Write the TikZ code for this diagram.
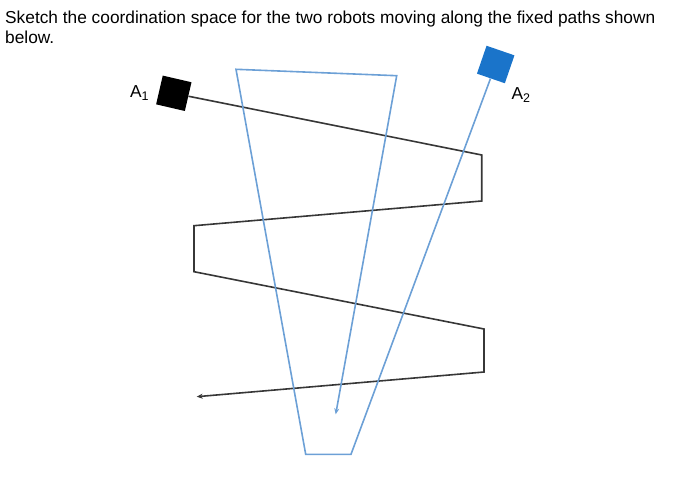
\documentclass[tikz,border=0pt]{standalone}
\usepackage{fontspec}
\setmainfont{Liberation Sans}
\usetikzlibrary{arrows.meta}
\definecolor{pathblue}{RGB}{108,160,214}
\definecolor{robotblue}{RGB}{26,116,202}
\definecolor{pathgray}{RGB}{55,55,55}
\newcommand{\robotsub}[1]{\raisebox{-0.3ex}{\fontsize{12.5bp}{12.5bp}\selectfont #1}}
\tikzset{
	robot/.style={draw=none, minimum size=29.5bp, inner sep=0pt},
	lbl/.style={inner sep=0pt, font=\fontsize{17.3bp}{20.7bp}\selectfont},
	path1/.style={pathgray, line width=1.6bp},
	path2/.style={pathblue, line width=1.6bp}
}
\begin{document}
\begin{tikzpicture}[x=1bp, y=-1bp]
	\useasboundingbox (0,0) rectangle (691,479);
	%question text
	\node[lbl, anchor=base west, align=left] (task) at (5,44)
		{Sketch the coordination space for the two robots moving along the fixed paths shown\\below.};
	
	%robots
	\node[robot, fill=black, rotate=-13] (a1) at (173.8,93.3){};
	\node[robot, fill=robotblue, rotate=-19] (a2) at (495.7,64.5){};
	\node[lbl, anchor=base west] (a1lbl) at (130,98){A\robotsub{1}};
	\node[lbl, anchor=base west] (a2lbl) at (511.5,100){A\robotsub{2}};
	
	%path of A1
	\coordinate (b1) at (481.7,155);
	\coordinate (b2) at (481.7,201);
	\coordinate (b3) at (194,225.7);
	\coordinate (b4) at (194,271.7);
	\coordinate (b5) at (484,329);
	\coordinate (b6) at (484,372);
	\coordinate (b7) at (196.7,396.7);
	\draw[path1, -{Stealth[length=6bp, width=5bp]}] (a1) -- (b1) -- (b2) -- (b3) -- (b4) -- (b5) -- (b6) -- (b7);
	
	%path of A2
	\coordinate (c1) at (351,454.3);
	\coordinate (c2) at (305.7,454.3);
	\coordinate (c3) at (236,69.3);
	\coordinate (c4) at (396.7,75.7);
	\coordinate (c5) at (335.7,414.3);
	\draw[path2, -{Stealth[length=6bp, width=5bp]}] (a2) -- (c1) -- (c2) -- (c3) -- (c4) -- (c5);
\end{tikzpicture}
\end{document}
